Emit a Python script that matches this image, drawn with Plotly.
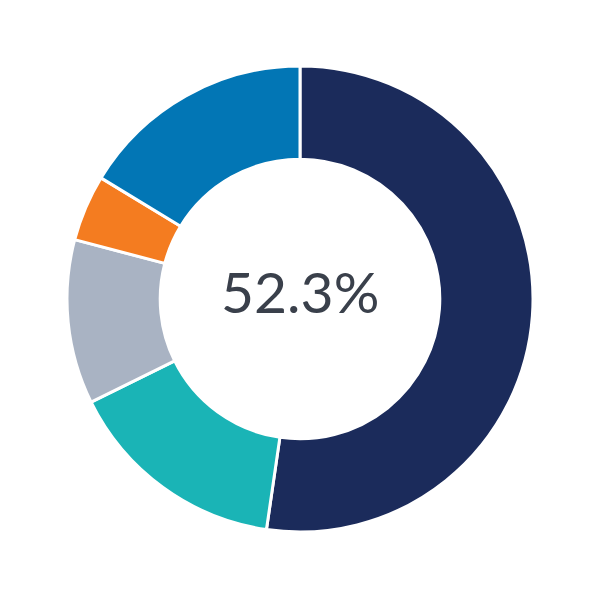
import plotly.graph_objects as go

# slice shares, clockwise from 12 o'clock
labels = ["Navy", "Teal", "Gray", "Orange", "Blue"]
values = [52.3, 15.4, 11.4, 4.6, 16.3]
colors = ["#1b2b5b", "#1ab4b6", "#a9b3c3", "#f47c20", "#0276b5"]
center_text = "52.3%"

fig = go.Figure(go.Pie(
    labels=labels, values=values, hole=0.6,
    sort=False, direction="clockwise", rotation=0,
    marker=dict(colors=colors, line=dict(color="white", width=3)),
    textinfo="none", hoverinfo="label+percent",
))
fig.add_annotation(text=center_text, x=0.5, y=0.5, xref="paper", yref="paper",
                   yshift=8, showarrow=False,
                   font=dict(family="Lato", size=57, color="#3a404b"))
fig.update_layout(width=600, height=600, showlegend=False,
                  margin=dict(l=59, r=75, t=58, b=76),
                  paper_bgcolor="white", plot_bgcolor="white")
fig.write_html("out.html")
